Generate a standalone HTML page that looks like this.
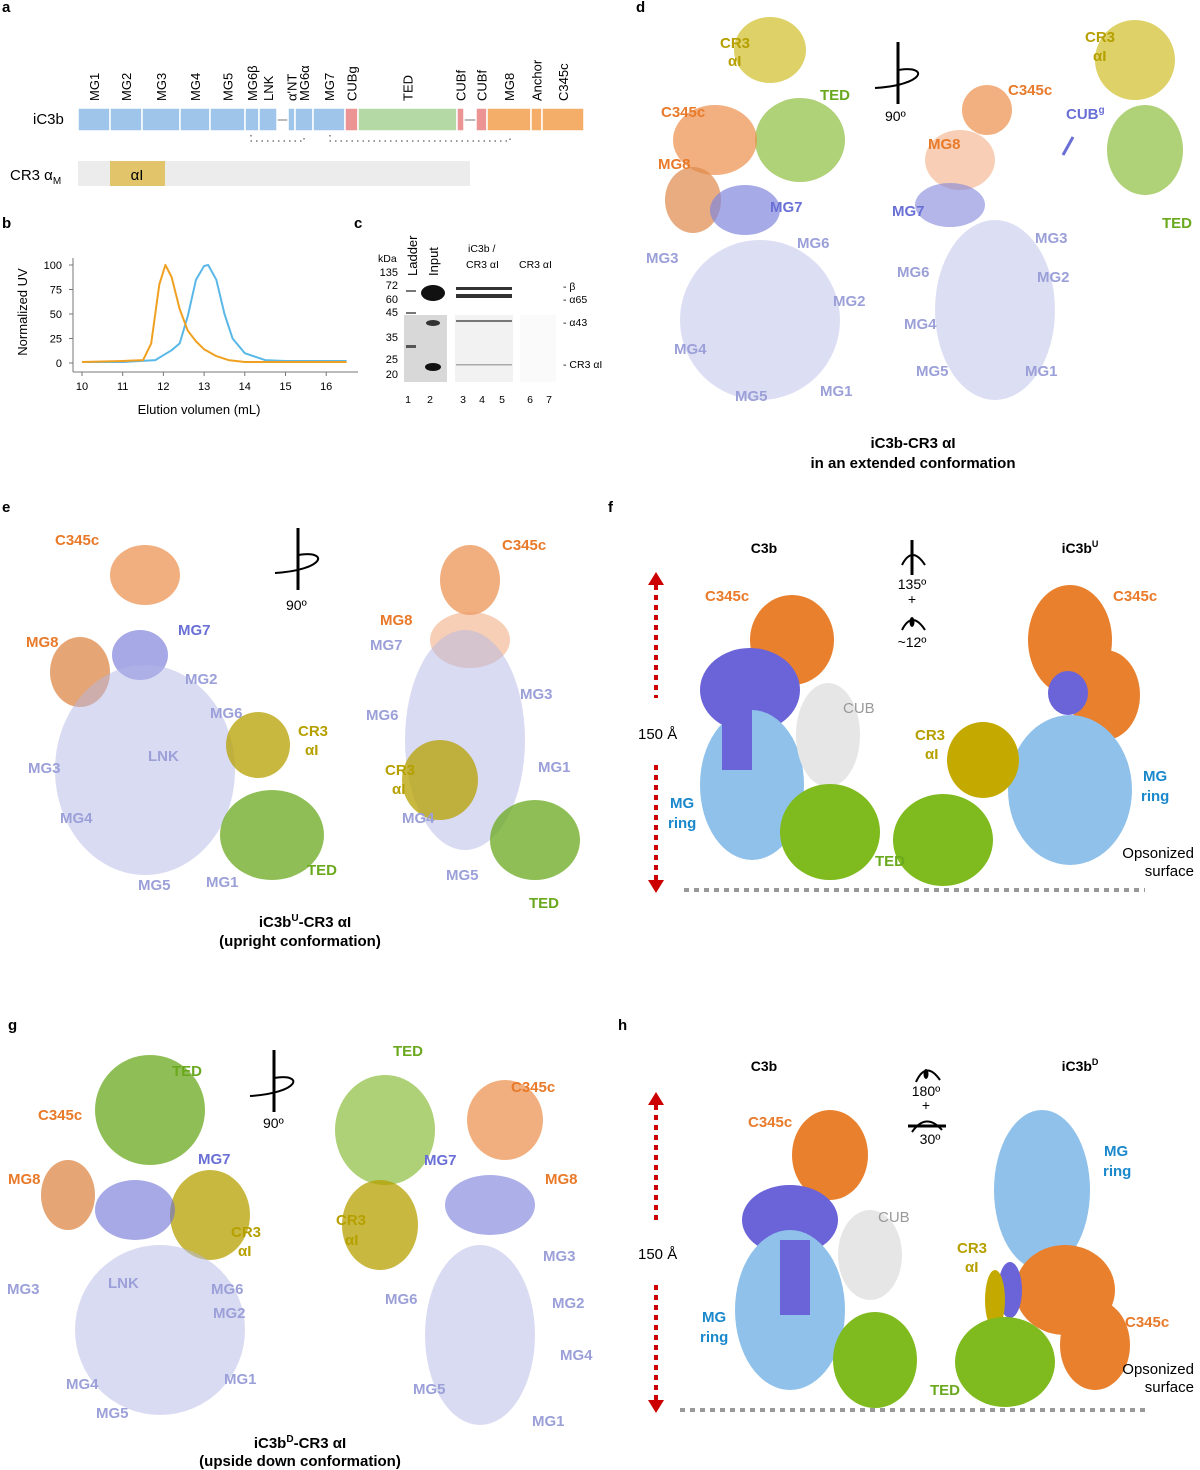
<!DOCTYPE html>
<html><head><meta charset="utf-8"><style>
html,body{margin:0;padding:0;background:#fff}
svg{display:block;font-family:"Liberation Sans",Arial,sans-serif}
.pl{font-weight:bold;font-size:15px}
.lab{font-weight:bold;font-size:15px}
.cap{font-weight:bold;font-size:15px;text-anchor:middle}
.tk{font-size:11px}
</style></head><body>
<svg id="fig" width="1200" height="1470" viewBox="0 0 1200 1470">
<!-- panel letters -->
<g>
<text class="pl" x="2" y="12">a</text><text class="pl" x="2" y="228">b</text><text class="pl" x="354" y="228">c</text>
<text class="pl" x="636" y="12">d</text><text class="pl" x="2" y="512">e</text><text class="pl" x="608" y="512">f</text>
<text class="pl" x="8" y="1030">g</text><text class="pl" x="618" y="1030">h</text>
</g>

<!-- panel a -->
<g id="panelA">
<text x="33" y="124" font-size="15">iC3b</text>
<text x="10" y="180" font-size="15">CR3 α<tspan font-size="10" dy="4">M</tspan></text>
<rect x="78" y="161" width="392" height="25" fill="#ececec"/>
<rect x="110" y="161" width="55" height="25" fill="#e2c46a"/>
<text x="137" y="180" font-size="15" text-anchor="middle">αI</text>
<line x1="277" y1="120" x2="288" y2="120" stroke="#777"/><line x1="464" y1="120" x2="476" y2="120" stroke="#777"/>
<path d="M251 135 v6 h53 v-6" fill="none" stroke="#333" stroke-dasharray="1.5,4"/>
<path d="M330 135 v6 h180 v-6" fill="none" stroke="#333" stroke-dasharray="1.5,4"/>
</g>

<!-- panel b chart -->
<g id="chartB">
<line x1="73" y1="258" x2="73" y2="372" stroke="#777"/>
<line x1="73" y1="372" x2="358" y2="372" stroke="#777"/>
<text transform="translate(27,312) rotate(-90)" font-size="13" text-anchor="middle">Normalized UV</text>
<text x="199" y="414" font-size="13" text-anchor="middle">Elution volumen (mL)</text>
</g>

<!-- panel c gel -->
<g>
<text transform="translate(417,276) rotate(-90)" font-size="13">Ladder</text>
<text transform="translate(438,276) rotate(-90)" font-size="13">Input</text>
<text x="468" y="252" font-size="10.5">iC3b /</text><text x="466" y="268" font-size="10.5">CR3 αI</text>
<text x="519" y="268" font-size="10.5">CR3 αI</text>
<text x="378" y="262" font-size="10.5">kDa</text>
<g class="tk" text-anchor="end" font-size="10.5">
<text x="398" y="276">135</text><text x="398" y="289">72</text><text x="398" y="303">60</text><text x="398" y="316">45</text><text x="398" y="341">35</text><text x="398" y="363">25</text><text x="398" y="378">20</text></g>
<rect x="404" y="315" width="43" height="67" fill="#d8d8d8"/>
<rect x="455" y="315" width="58" height="67" fill="#f2f2f2"/>
<rect x="520" y="315" width="36" height="67" fill="#fafafa"/>
<g fill="#333">
<ellipse cx="433" cy="293" rx="12" ry="8" fill="#111"/><ellipse cx="433" cy="323" rx="7" ry="3"/><ellipse cx="433" cy="367" rx="8" ry="4" fill="#111"/>
<rect x="456" y="287" width="56" height="3"/><rect x="456" y="294" width="56" height="4"/>
<rect x="456" y="320" width="56" height="2" fill="#777"/><rect x="456" y="364" width="56" height="1.5" fill="#aaa"/>
<rect x="406" y="290" width="10" height="2" fill="#777"/><rect x="406" y="312" width="10" height="2" fill="#777"/><rect x="406" y="345" width="10" height="3" fill="#555"/>
</g>
<g font-size="10.5"><text x="563" y="290">- β</text><text x="563" y="303">- α65</text><text x="563" y="326">- α43</text><text x="563" y="368">- CR3 αI</text></g>
<g font-size="10.5" text-anchor="middle"><text x="408" y="403">1</text><text x="430" y="403">2</text><text x="463" y="403">3</text><text x="482" y="403">4</text><text x="502" y="403">5</text><text x="530" y="403">6</text><text x="549" y="403">7</text></g>
</g>

<!-- panel d -->
<g opacity="0.85">
<ellipse cx="770" cy="50" rx="36" ry="33" fill="#c6b200" opacity="0.7"/>
<ellipse cx="800" cy="140" rx="45" ry="42" fill="#78b01a" opacity="0.7"/>
<ellipse cx="715" cy="140" rx="42" ry="35" fill="#e87a2a" opacity="0.7"/>
<ellipse cx="693" cy="200" rx="28" ry="33" fill="#d8742a" opacity="0.7"/>
<ellipse cx="745" cy="210" rx="35" ry="25" fill="#6a6fd6" opacity="0.7"/>
<ellipse cx="760" cy="320" rx="80" ry="80" fill="#b4b8e6" opacity="0.55"/>
<ellipse cx="1135" cy="60" rx="40" ry="40" fill="#c6b200" opacity="0.7"/>
<ellipse cx="1145" cy="150" rx="38" ry="45" fill="#78b01a" opacity="0.7"/>
<ellipse cx="987" cy="110" rx="25" ry="25" fill="#e87a2a" opacity="0.7"/>
<ellipse cx="960" cy="160" rx="35" ry="30" fill="#f0a070" opacity="0.6"/>
<ellipse cx="950" cy="205" rx="35" ry="22" fill="#6a6fd6" opacity="0.6"/>
<ellipse cx="995" cy="310" rx="60" ry="90" fill="#b4b8e6" opacity="0.55"/>
</g>
<g class="lab">
<text x="720" y="48" fill="#b5a000">CR3</text><text x="728" y="66" fill="#b5a000">αI</text>
<text x="820" y="100" fill="#6aa81e">TED</text><text x="661" y="117" fill="#e87a2a">C345c</text>
<text x="658" y="169" fill="#e87a2a">MG8</text><text x="770" y="212" fill="#6a6fd6">MG7</text>
<text x="797" y="248" fill="#9ca0d8">MG6</text><text x="646" y="263" fill="#9ca0d8">MG3</text>
<text x="833" y="306" fill="#9ca0d8">MG2</text><text x="674" y="354" fill="#9ca0d8">MG4</text>
<text x="735" y="401" fill="#9ca0d8">MG5</text><text x="820" y="396" fill="#9ca0d8">MG1</text>
<text x="1085" y="42" fill="#b5a000">CR3</text><text x="1093" y="61" fill="#b5a000">αI</text>
<text x="1008" y="95" fill="#e87a2a">C345c</text><text x="928" y="149" fill="#e87a2a">MG8</text>
<text x="1066" y="119" fill="#6a6fd6">CUB<tspan font-size="10" dy="-6">g</tspan></text>
<text x="1162" y="228" fill="#6aa81e">TED</text><text x="892" y="216" fill="#6a6fd6">MG7</text>
<text x="1035" y="243" fill="#9ca0d8">MG3</text><text x="897" y="277" fill="#9ca0d8">MG6</text>
<text x="1037" y="282" fill="#9ca0d8">MG2</text><text x="904" y="329" fill="#9ca0d8">MG4</text>
<text x="916" y="376" fill="#9ca0d8">MG5</text><text x="1025" y="376" fill="#9ca0d8">MG1</text>
<line x1="1073" y1="137" x2="1063" y2="155" stroke="#6a6fd6" stroke-width="3"/>
</g>
<text class="cap" x="913" y="448">iC3b-CR3 αI</text>
<text class="cap" x="913" y="468">in an extended conformation</text>
<g><line x1="898" y1="42" x2="898" y2="104" stroke="#000" stroke-width="3"/><path d="M898 70 C930 65 925 85 875 88" fill="none" stroke="#000" stroke-width="2"/><text x="885" y="121" font-size="14">90º</text></g>

<!-- panel e -->
<g>
<ellipse cx="145" cy="575" rx="35" ry="30" fill="#e87a2a" opacity="0.6"/>
<ellipse cx="80" cy="672" rx="30" ry="35" fill="#d8742a" opacity="0.65"/>
<ellipse cx="140" cy="655" rx="28" ry="25" fill="#6a6fd6" opacity="0.6"/>
<ellipse cx="145" cy="770" rx="90" ry="105" fill="#b4b8e6" opacity="0.5"/>
<ellipse cx="258" cy="745" rx="32" ry="33" fill="#b5a000" opacity="0.75"/>
<ellipse cx="272" cy="835" rx="52" ry="45" fill="#6aa81e" opacity="0.75"/>
<ellipse cx="470" cy="580" rx="30" ry="35" fill="#e87a2a" opacity="0.6"/>
<ellipse cx="470" cy="640" rx="40" ry="28" fill="#f0a070" opacity="0.5"/>
<ellipse cx="465" cy="740" rx="60" ry="110" fill="#b4b8e6" opacity="0.5"/>
<ellipse cx="440" cy="780" rx="38" ry="40" fill="#b5a000" opacity="0.75"/>
<ellipse cx="535" cy="840" rx="45" ry="40" fill="#6aa81e" opacity="0.75"/>
</g>
<g class="lab">
<text x="55" y="545" fill="#e87a2a">C345c</text><text x="26" y="647" fill="#e87a2a">MG8</text>
<text x="178" y="635" fill="#6a6fd6">MG7</text><text x="185" y="684" fill="#9ca0d8">MG2</text>
<text x="210" y="718" fill="#9ca0d8">MG6</text><text x="298" y="736" fill="#b5a000">CR3</text><text x="305" y="755" fill="#b5a000">αI</text>
<text x="28" y="773" fill="#9ca0d8">MG3</text><text x="148" y="761" fill="#9ca0d8">LNK</text>
<text x="60" y="823" fill="#9ca0d8">MG4</text><text x="307" y="875" fill="#6aa81e">TED</text>
<text x="138" y="890" fill="#9ca0d8">MG5</text><text x="206" y="887" fill="#9ca0d8">MG1</text>
<text x="502" y="550" fill="#e87a2a">C345c</text><text x="380" y="625" fill="#e87a2a">MG8</text>
<text x="370" y="650" fill="#9ca0d8">MG7</text><text x="520" y="699" fill="#9ca0d8">MG3</text>
<text x="366" y="720" fill="#9ca0d8">MG6</text><text x="538" y="772" fill="#9ca0d8">MG1</text>
<text x="385" y="775" fill="#b5a000">CR3</text><text x="392" y="794" fill="#b5a000">αI</text>
<text x="402" y="823" fill="#9ca0d8">MG4</text><text x="446" y="880" fill="#9ca0d8">MG5</text>
<text x="529" y="908" fill="#6aa81e">TED</text>
</g>
<text class="cap" x="305" y="927">iC3b<tspan font-size="10" dy="-6">U</tspan><tspan dy="6">-CR3 αI</tspan></text>
<text class="cap" x="300" y="946">(upright conformation)</text>
<g><line x1="298" y1="528" x2="298" y2="590" stroke="#000" stroke-width="3"/><path d="M298 555 C330 550 325 570 275 573" fill="none" stroke="#000" stroke-width="2"/><text x="286" y="610" font-size="14">90º</text></g>

<!-- panel f -->
<g>
<ellipse cx="792" cy="640" rx="42" ry="45" fill="#e8802e"/>
<ellipse cx="750" cy="690" rx="50" ry="42" fill="#6b63d8"/>
<ellipse cx="752" cy="785" rx="52" ry="75" fill="#8fc1ea"/>
<rect x="722" y="700" width="30" height="70" fill="#6b63d8"/>
<ellipse cx="828" cy="735" rx="32" ry="52" fill="#e6e6e6"/>
<ellipse cx="830" cy="832" rx="50" ry="48" fill="#7fba1e"/>
<ellipse cx="1070" cy="640" rx="42" ry="55" fill="#e8802e"/>
<ellipse cx="1105" cy="695" rx="35" ry="45" fill="#e8802e"/>
<ellipse cx="1068" cy="693" rx="20" ry="22" fill="#6b63d8"/>
<ellipse cx="1070" cy="790" rx="62" ry="75" fill="#8fc1ea"/>
<ellipse cx="983" cy="760" rx="36" ry="38" fill="#c4aa00"/>
<ellipse cx="943" cy="840" rx="50" ry="46" fill="#7fba1e"/>
</g>
<g>
<text x="764" y="553" font-weight="bold" font-size="14" text-anchor="middle">C3b</text>
<text x="1080" y="553" font-weight="bold" font-size="14" text-anchor="middle">iC3b<tspan font-size="9" dy="-6">U</tspan></text>
<text class="lab" x="705" y="601" fill="#e87a2a">C345c</text><text class="lab" x="1113" y="601" fill="#e87a2a">C345c</text>
<text x="843" y="713" font-size="15" fill="#999">CUB</text>
<text x="638" y="739" font-size="15">150 Å</text>
<text class="lab" x="915" y="740" fill="#b5a000">CR3</text><text class="lab" x="925" y="759" fill="#b5a000">αI</text>
<text class="lab" x="670" y="808" fill="#1a88cc">MG</text><text class="lab" x="668" y="828" fill="#1a88cc">ring</text>
<text class="lab" x="1143" y="781" fill="#1a88cc">MG</text><text class="lab" x="1141" y="801" fill="#1a88cc">ring</text>
<text class="lab" x="875" y="866" fill="#6aa81e">TED</text>
<text x="1194" y="858" font-size="15" text-anchor="end">Opsonized</text><text x="1194" y="876" font-size="15" text-anchor="end">surface</text>
<text x="912" y="589" font-size="14" text-anchor="middle">135º</text><text x="912" y="604" font-size="14" text-anchor="middle">+</text><text x="912" y="647" font-size="14" text-anchor="middle">~12º</text>
<line x1="912" y1="540" x2="912" y2="575" stroke="#000" stroke-width="3"/><path d="M902 565 Q912 545 925 565" fill="none" stroke="#000" stroke-width="2"/>
<path d="M902 630 Q912 610 925 630" fill="none" stroke="#000" stroke-width="2"/><ellipse cx="912" cy="622" rx="2.5" ry="5"/>
<line x1="656" y1="585" x2="656" y2="698" stroke="#c00" stroke-width="4" stroke-dasharray="5,5"/>
<line x1="656" y1="765" x2="656" y2="880" stroke="#c00" stroke-width="4" stroke-dasharray="5,5"/>
<path d="M648 585 L656 572 L664 585Z" fill="#c00"/><path d="M648 880 L656 893 L664 880Z" fill="#c00"/>
<line x1="684" y1="890" x2="1145" y2="890" stroke="#999" stroke-width="4" stroke-dasharray="5,5"/>
</g>

<!-- panel g -->
<g>
<ellipse cx="150" cy="1110" rx="55" ry="55" fill="#6aa81e" opacity="0.75"/>
<ellipse cx="68" cy="1195" rx="27" ry="35" fill="#d8742a" opacity="0.65"/>
<ellipse cx="210" cy="1215" rx="40" ry="45" fill="#b5a000" opacity="0.75"/>
<ellipse cx="135" cy="1210" rx="40" ry="30" fill="#6a6fd6" opacity="0.6"/>
<ellipse cx="160" cy="1330" rx="85" ry="85" fill="#b4b8e6" opacity="0.5"/>
<ellipse cx="385" cy="1130" rx="50" ry="55" fill="#78b01a" opacity="0.6"/>
<ellipse cx="505" cy="1120" rx="38" ry="40" fill="#e87a2a" opacity="0.6"/>
<ellipse cx="380" cy="1225" rx="38" ry="45" fill="#b5a000" opacity="0.75"/>
<ellipse cx="490" cy="1205" rx="45" ry="30" fill="#6a6fd6" opacity="0.55"/>
<ellipse cx="480" cy="1335" rx="55" ry="90" fill="#b4b8e6" opacity="0.5"/>
</g>
<g class="lab">
<text x="172" y="1076" fill="#6aa81e">TED</text><text x="38" y="1120" fill="#e87a2a">C345c</text>
<text x="8" y="1184" fill="#e87a2a">MG8</text><text x="198" y="1164" fill="#6a6fd6">MG7</text>
<text x="231" y="1237" fill="#b5a000">CR3</text><text x="238" y="1256" fill="#b5a000">αI</text>
<text x="7" y="1294" fill="#9ca0d8">MG3</text><text x="108" y="1288" fill="#9ca0d8">LNK</text>
<text x="211" y="1294" fill="#9ca0d8">MG6</text><text x="213" y="1318" fill="#9ca0d8">MG2</text>
<text x="66" y="1389" fill="#9ca0d8">MG4</text><text x="224" y="1384" fill="#9ca0d8">MG1</text>
<text x="96" y="1418" fill="#9ca0d8">MG5</text>
<text x="393" y="1056" fill="#6aa81e">TED</text><text x="511" y="1092" fill="#e87a2a">C345c</text>
<text x="424" y="1165" fill="#6a6fd6">MG7</text><text x="545" y="1184" fill="#e87a2a">MG8</text>
<text x="336" y="1225" fill="#b5a000">CR3</text><text x="345" y="1245" fill="#b5a000">αI</text>
<text x="543" y="1261" fill="#9ca0d8">MG3</text><text x="385" y="1304" fill="#9ca0d8">MG6</text>
<text x="552" y="1308" fill="#9ca0d8">MG2</text><text x="560" y="1360" fill="#9ca0d8">MG4</text>
<text x="413" y="1394" fill="#9ca0d8">MG5</text><text x="532" y="1426" fill="#9ca0d8">MG1</text>
</g>
<text class="cap" x="300" y="1448">iC3b<tspan font-size="10" dy="-6">D</tspan><tspan dy="6">-CR3 αI</tspan></text>
<text class="cap" x="300" y="1466">(upside down conformation)</text>
<g><line x1="274" y1="1050" x2="274" y2="1112" stroke="#000" stroke-width="3"/><path d="M274 1078 C305 1073 300 1093 250 1096" fill="none" stroke="#000" stroke-width="2"/><text x="263" y="1128" font-size="14">90º</text></g>

<!-- panel h -->
<g>
<ellipse cx="830" cy="1155" rx="38" ry="45" fill="#e8802e"/>
<ellipse cx="790" cy="1220" rx="48" ry="35" fill="#6b63d8"/>
<ellipse cx="790" cy="1310" rx="55" ry="80" fill="#8fc1ea"/>
<rect x="780" y="1240" width="30" height="75" fill="#6b63d8"/>
<ellipse cx="870" cy="1255" rx="32" ry="45" fill="#e6e6e6"/>
<ellipse cx="875" cy="1360" rx="42" ry="48" fill="#7fba1e"/>
<ellipse cx="1042" cy="1190" rx="48" ry="80" fill="#8fc1ea"/>
<ellipse cx="1065" cy="1290" rx="50" ry="45" fill="#e8802e"/>
<ellipse cx="1095" cy="1345" rx="35" ry="45" fill="#e8802e"/>
<ellipse cx="1010" cy="1290" rx="12" ry="28" fill="#6b63d8"/>
<ellipse cx="995" cy="1300" rx="10" ry="30" fill="#c4aa00"/>
<ellipse cx="1005" cy="1362" rx="50" ry="45" fill="#7fba1e"/>
</g>
<g>
<text x="764" y="1071" font-weight="bold" font-size="14" text-anchor="middle">C3b</text>
<text x="1080" y="1071" font-weight="bold" font-size="14" text-anchor="middle">iC3b<tspan font-size="9" dy="-6">D</tspan></text>
<text class="lab" x="748" y="1127" fill="#e87a2a">C345c</text><text class="lab" x="1125" y="1327" fill="#e87a2a">C345c</text>
<text x="878" y="1222" font-size="15" fill="#999">CUB</text>
<text x="638" y="1259" font-size="15">150 Å</text>
<text class="lab" x="957" y="1253" fill="#b5a000">CR3</text><text class="lab" x="965" y="1272" fill="#b5a000">αI</text>
<text class="lab" x="702" y="1322" fill="#1a88cc">MG</text><text class="lab" x="700" y="1342" fill="#1a88cc">ring</text>
<text class="lab" x="1104" y="1156" fill="#1a88cc">MG</text><text class="lab" x="1103" y="1176" fill="#1a88cc">ring</text>
<text class="lab" x="930" y="1395" fill="#6aa81e">TED</text>
<text x="1194" y="1374" font-size="15" text-anchor="end">Opsonized</text><text x="1194" y="1392" font-size="15" text-anchor="end">surface</text>
<text x="926" y="1096" font-size="14" text-anchor="middle">180º</text><text x="926" y="1110" font-size="14" text-anchor="middle">+</text><text x="930" y="1144" font-size="14" text-anchor="middle">30º</text>
<path d="M916 1082 Q926 1060 940 1080" fill="none" stroke="#000" stroke-width="2"/><ellipse cx="926" cy="1074" rx="2.5" ry="5"/>
<line x1="908" y1="1126" x2="946" y2="1126" stroke="#000" stroke-width="3"/><path d="M912 1132 Q926 1112 942 1130" fill="none" stroke="#000" stroke-width="2"/>
<line x1="656" y1="1105" x2="656" y2="1222" stroke="#c00" stroke-width="4" stroke-dasharray="5,5"/>
<line x1="656" y1="1285" x2="656" y2="1400" stroke="#c00" stroke-width="4" stroke-dasharray="5,5"/>
<path d="M648 1105 L656 1092 L664 1105Z" fill="#c00"/><path d="M648 1400 L656 1413 L664 1400Z" fill="#c00"/>
<line x1="680" y1="1410" x2="1145" y2="1410" stroke="#999" stroke-width="4" stroke-dasharray="5,5"/>
</g>
</svg>
<script>
// ---- panel a domain data ----
const domainNames=["MG1","MG2","MG3","MG4","MG5","MG6β","LNK","","α'NT","MG6α","MG7","CUBg","TED","CUBf","","CUBf","MG8","Anchor","C345c"];
const domainEnds=[110,142,180,210,245,259,277,288,295,313,345,358,457,464,476,487,531,542,584];
const domainTypes=["mg","mg","mg","mg","mg","mg","mg","gap","mg","mg","mg","cub","ted","cub","gap","cub","c5","c5","c5"];
// ---- panel b chart data ----
const xTicks=[10,11,12,13,14,15,16];
const yTicks=[0,25,50,75,100];
const orangeX=[10,11,11.5,11.7,11.9,12.05,12.2,12.4,12.6,12.8,13,13.3,13.6,14,14.5,15,16,16.5];
const orangeY=[1,2,3,20,80,100,88,55,33,22,14,7,3,1,1,1,1,1];
const blueX=[10,11,11.8,12,12.2,12.4,12.6,12.8,13,13.1,13.3,13.5,13.7,14,14.5,15,16,16.5];
const blueY=[1,1,3,8,13,20,48,85,99,100,85,50,25,10,3,2,2,2];

const NS="http://www.w3.org/2000/svg";
const svg=document.getElementById('fig');
function mk(tag,attrs,parent){const e=document.createElementNS(NS,tag);for(const k in attrs)e.setAttribute(k,attrs[k]);(parent||svg).appendChild(e);return e;}
const colors={mg:"#9fc6ea",cub:"#ec9494",ted:"#b5d9a5",c5:"#f5ae6a"};
const gA=document.getElementById('panelA');
let x0=78;
domainEnds.forEach((xe,i)=>{
  if(domainTypes[i]!=="gap"){
    const r=mk('rect',{x:x0,y:108,width:xe-x0,height:23,fill:colors[domainTypes[i]],stroke:"#fff","stroke-width":1.5},gA);
    
    
    if(domainNames[i]){
      const cx=(x0+xe)/2+5;
      const t=mk('text',{transform:`translate(${cx},101) rotate(-90)`,"font-size":13},gA);
      t.textContent=domainNames[i];
      
      
    }
  }
  x0=xe;
});
const gB=document.getElementById('chartB');
const sx=v=>82+(v-10)*40.7, sy=v=>363-v*0.98;
xTicks.forEach(v=>{mk('line',{x1:sx(v),y1:372,x2:sx(v),y2:376,stroke:"#777"},gB);const t=mk('text',{x:sx(v),y:390,"font-size":11,"text-anchor":"middle"},gB);t.textContent=v;
  
  });
yTicks.forEach(v=>{mk('line',{x1:69,y1:sy(v),x2:73,y2:sy(v),stroke:"#777"},gB);const t=mk('text',{x:62,y:sy(v)+4,"font-size":11,"text-anchor":"end"},gB);t.textContent=v;
  
  });
function line(xs,ys,col,name){const d=xs.map((x,i)=>(i?'L':'M')+sx(x).toFixed(1)+' '+sy(ys[i]).toFixed(1)).join(' ');
  const p=mk('path',{d:d,fill:"none",stroke:col,"stroke-width":2,"stroke-linejoin":"round"},gB);
  
  }
line(blueX,blueY,"#5ab8e8","series-blue");
line(orangeX,orangeY,"#f0a020","series-orange");
</script>
</body></html>
